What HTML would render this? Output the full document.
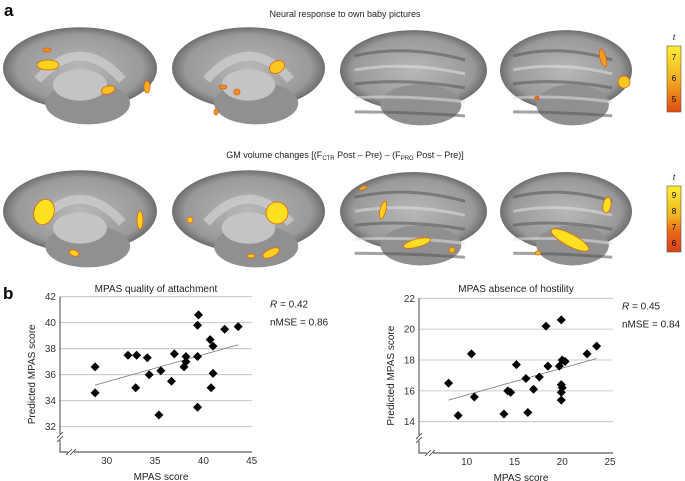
<!DOCTYPE html>
<html><head><meta charset="utf-8"><style>
body{margin:0;background:#fff;width:685px;height:481px;overflow:hidden;font-family:"Liberation Sans",sans-serif}
svg{display:block}
</style></head><body>
<svg id="fig" width="685" height="481" viewBox="0 0 685 481">
<defs>
<radialGradient id="brainG" cx="50%" cy="50%" r="55%">
<stop offset="0" stop-color="#b8b8b8"/><stop offset="0.75" stop-color="#999"/><stop offset="1" stop-color="#555"/>
</radialGradient>
<linearGradient id="cb1" x1="0" y1="0" x2="0" y2="1">
<stop offset="0" stop-color="#ffee30"/><stop offset="0.5" stop-color="#f2b020"/><stop offset="1" stop-color="#e04a10"/>
</linearGradient>
<linearGradient id="cb2" x1="0" y1="0" x2="0" y2="1">
<stop offset="0" stop-color="#ffee30"/><stop offset="0.45" stop-color="#f0b420"/><stop offset="0.7" stop-color="#e86818"/><stop offset="1" stop-color="#d8401a"/>
</linearGradient>
</defs>
<text x="4" y="16" font-size="17" font-weight="bold">a</text>
<text x="345" y="17" font-size="9" text-anchor="middle" fill="#222">Neural response to own baby pictures</text>
<text x="345" y="158" font-size="9" text-anchor="middle" fill="#222">GM volume changes [(F<tspan font-size="6" dy="2">CTR</tspan><tspan dy="-2"> Post – Pre) – (F</tspan><tspan font-size="6" dy="2">PRG</tspan><tspan dy="-2"> Post – Pre)]</tspan></text>
<g id="brains"></g>
<g>
<text x="674" y="40" font-size="8" font-style="italic" text-anchor="middle">t</text>
<rect x="667" y="46" width="14" height="66" fill="url(#cb1)" stroke="#555" stroke-width="0.6"/>
<text x="674" y="60" font-size="8" text-anchor="middle">7</text>
<text x="674" y="81" font-size="8" text-anchor="middle">6</text>
<text x="674" y="102" font-size="8" text-anchor="middle">5</text>
</g>
<g>
<text x="674" y="180" font-size="8" font-style="italic" text-anchor="middle">t</text>
<rect x="667" y="186" width="14" height="66" fill="url(#cb2)" stroke="#555" stroke-width="0.6"/>
<text x="674" y="198" font-size="8" text-anchor="middle">9</text>
<text x="674" y="214" font-size="8" text-anchor="middle">8</text>
<text x="674" y="230" font-size="8" text-anchor="middle">7</text>
<text x="674" y="246" font-size="8" text-anchor="middle">6</text>
</g>
<text x="3" y="299" font-size="17" font-weight="bold">b</text>
<g id="chart1"></g>
<g id="chart2"></g>
</svg>
<script>
// Chart 1 data
const x1Vals=[28.8,28.8,32.2,33.1,33,34.2,34.4,35.4,35.6,36.7,37,38,38.2,38.2,39.4,39.4,39.5,39.4,40.7,40.8,41,41,42.2,43.6];
const y1Vals=[36.6,34.6,37.5,37.5,35,37.3,36,32.9,36.3,35.5,37.6,36.6,37,37.4,37.4,39.8,40.6,33.5,38.7,35,38.2,36.1,39.5,39.7];
const y1Ticks=[32,34,36,38,40,42];
const x1Ticks=[30,35,40,45];
const fit1=[[28.8,35.2],[43.6,38.3]];
// Chart 2 data
const x2Vals=[8.1,9.1,10.5,10.8,13.9,14.3,14.6,15.2,16.2,16.4,17,17.6,18.3,18.5,19.7,19.9,20,19.9,20,19.9,19.9,20.3,22.6,23.6];
const y2Vals=[16.5,14.4,18.4,15.6,14.5,16,15.9,17.7,16.8,14.6,16.1,16.9,20.2,17.6,17.6,20.6,18,16.4,16.2,15.9,15.4,17.9,18.4,18.9];
const y2Ticks=[14,16,18,20,22];
const x2Ticks=[10,15,20,25];
const fit2=[[8.1,15.4],[23.6,18.1]];

const NS='http://www.w3.org/2000/svg';
function mk(tag,attrs,parent){const e=document.createElementNS(NS,tag);for(const k in attrs)e.setAttribute(k,attrs[k]);parent.appendChild(e);return e;}

function drawChart(g,o){
  const sx=v=>o.x0+(v-o.xa)*(o.x1-o.x0)/(o.xb-o.xa);
  const sy=v=>o.y0+(v-o.ya)*(o.y1-o.y0)/(o.yb-o.ya);
  o.yT.forEach(t=>{
    const l=mk('line',{x1:o.axX,x2:o.gridEnd,y1:sy(t),y2:sy(t),stroke:'#bbb','stroke-width':0.8},g);
    
    
    const tx=mk('text',{x:o.axX-4,y:sy(t)+3.5,'font-size':10,'text-anchor':'end',fill:'#333'},g);tx.textContent=t;
    
    
  });
  o.xT.forEach(t=>{
    const tx=mk('text',{x:sx(t),y:o.axY+12,'font-size':10,'text-anchor':'middle',fill:'#333'},g);tx.textContent=t;
    
    
  });
  mk('polyline',{points:`${o.axX},${o.gridTop} ${o.axX},${o.breakY-3}`,stroke:'#333',fill:'none','stroke-width':0.9},g);
  mk('polyline',{points:`${o.axX},${o.breakY+3} ${o.axX},${o.axY} ${o.axX+8},${o.axY}`,stroke:'#333',fill:'none','stroke-width':0.9},g);
  mk('line',{x1:o.axX+14,y1:o.axY,x2:o.gridEnd,y2:o.axY,stroke:'#333','stroke-width':0.9},g);
  mk('line',{x1:o.axX-3,y1:o.breakY+1,x2:o.axX+3,y2:o.breakY-5,stroke:'#333','stroke-width':0.8},g);
  mk('line',{x1:o.axX-3,y1:o.breakY+5,x2:o.axX+3,y2:o.breakY-1,stroke:'#333','stroke-width':0.8},g);
  mk('line',{x1:o.axX+6,y1:o.axY+3,x2:o.axX+12,y2:o.axY-3,stroke:'#333','stroke-width':0.8},g);
  mk('line',{x1:o.axX+10,y1:o.axY+3,x2:o.axX+16,y2:o.axY-3,stroke:'#333','stroke-width':0.8},g);
  const fl=mk('line',{x1:sx(o.fit[0][0]),y1:sy(o.fit[0][1]),x2:sx(o.fit[1][0]),y2:sy(o.fit[1][1]),stroke:'#777','stroke-width':0.8},g);
  
  
  o.xs.forEach((xv,i)=>{
    const cx=sx(xv),cy=sy(o.ys[i]);
    const p=mk('polygon',{points:`${cx},${cy-4.5} ${cx+4.5},${cy} ${cx},${cy+4.5} ${cx-4.5},${cy}`,fill:'#000'},g);
    
    
  });
  const t=mk('text',{x:(o.axX+o.gridEnd)/2,y:o.titleY,'font-size':10,'text-anchor':'middle',fill:'#222'},g);t.textContent=o.title;
  
  
  const xl=mk('text',{x:(o.axX+o.gridEnd)/2+5,y:o.axY+28,'font-size':10,'text-anchor':'middle',fill:'#222'},g);xl.textContent='MPAS score';
  
  
  const yl=mk('text',{x:0,y:0,'font-size':10,'text-anchor':'middle',fill:'#222',transform:`translate(${o.axX-25},${(o.gridTop+o.axY)/2}) rotate(-90)`},g);yl.textContent='Predicted MPAS score';
  
  
  const r=mk('text',{x:o.statX,y:o.gridTop+11,'font-size':10,fill:'#222'},g);r.innerHTML='<tspan font-style="italic">R</tspan> = '+o.R;
  
  
  const n=mk('text',{x:o.statX,y:o.gridTop+29,'font-size':10,fill:'#222'},g);n.textContent='nMSE = '+o.nmse;
  
  
}
const c1=document.getElementById('chart1');


drawChart(c1,{xs:x1Vals,ys:y1Vals,yT:y1Ticks,xT:x1Ticks,fit:fit1,xa:30,xb:45,x0:106.7,x1:251.7,ya:32,yb:42,y0:426.7,y1:296.7,axX:60,axY:452,gridEnd:252,gridTop:296.7,breakY:437,titleY:292,title:'MPAS quality of attachment',statX:270,R:'0.42',nmse:'0.86'});
const c2=document.getElementById('chart2');


drawChart(c2,{xs:x2Vals,ys:y2Vals,yT:y2Ticks,xT:x2Ticks,fit:fit2,xa:10,xb:25,x0:466.7,x1:610,ya:14,yb:22,y0:421.7,y1:298.3,axX:419,axY:453,gridEnd:613,gridTop:298.3,breakY:438,titleY:292,title:'MPAS absence of hostility',statX:622,R:'0.45',nmse:'0.84'});

// Brains (absolute blob positions: cx, cy, rx, ry, color, rotation)
const bg=document.getElementById('brains');
const brains=[
 {x0:3,x1:157,y0:22,y1:127,med:1,blobs:[[48,65,11,5,'#ffd21a',0],[47,50,4,2,'#f09020',0],[108,90,7,4,'#ffc020',-15],[147,87,3,6,'#f5b020',0]],n:'brain-row1-medial-left'},
 {x0:172,x1:325,y0:22,y1:127,med:1,blobs:[[277,67,8,6,'#ffc820',-30],[223,87,4,2,'#f09020',0],[237,92,3,3,'#f09020',0],[216,112,2,3,'#f0a020',0]],n:'brain-row1-medial-right'},
 {x0:340,x1:487,y0:25,y1:128,med:0,blobs:[],n:'brain-row1-lateral-left'},
 {x0:500,x1:632,y0:25,y1:128,med:0,blobs:[[603,58,3,9,'#f0a020',-15],[624,82,6,6,'#ffc820',0],[537,98,2,2,'#e07020',0]],n:'brain-row1-lateral-right'},
 {x0:3,x1:157,y0:165,y1:270,med:1,blobs:[[44,212,10,13,'#ffe020',20],[140,220,3,9,'#ffd020',0],[74,253,5,3,'#ffd020',20]],n:'brain-row2-medial-left'},
 {x0:172,x1:325,y0:165,y1:270,med:1,blobs:[[277,213,11,11,'#ffe020',0],[190,220,3,3,'#ffc820',0],[271,253,9,4,'#ffd020',-25],[251,256,4,2,'#ffc820',0]],n:'brain-row2-medial-right'},
 {x0:340,x1:487,y0:167,y1:268,med:0,blobs:[[383,210,3,9,'#ffd020',15],[417,243,14,4,'#ffe020',-15],[363,188,4,1.5,'#e0c020',-20],[452,250,3,3,'#e0c020',0]],n:'brain-row2-lateral-left'},
 {x0:500,x1:632,y0:167,y1:268,med:0,blobs:[[607,205,4,8,'#ffe020',10],[570,240,21,6,'#ffe020',28],[538,253,3,2,'#e0c020',0]],n:'brain-row2-lateral-right'}
];
brains.forEach(b=>{
  const g=mk('g',{},bg);
  
  
  const cx=(b.x0+b.x1)/2, cy=(b.y0+b.y1)/2, rx=(b.x1-b.x0)/2, ry=(b.y1-b.y0)/2;
  mk('ellipse',{cx:cx,cy:cy-ry*0.12,rx:rx,ry:ry*0.78,fill:'url(#brainG)'},g);
  mk('ellipse',{cx:cx+rx*0.1,cy:cy+ry*0.55,rx:rx*0.55,ry:ry*0.4,fill:'#909090'},g);
  if(b.med){
    mk('path',{d:`M${cx-rx*0.55} ${cy+ry*0.1} q${rx*0.55} ${-ry*0.9} ${rx*1.1} 0`,stroke:'#d0d0d0',fill:'none','stroke-width':9,opacity:0.7},g);
    mk('ellipse',{cx:cx,cy:cy+ry*0.2,rx:rx*0.35,ry:ry*0.3,fill:'#c4c4c4'},g);
  } else {
    for(let k=0;k<5;k++){
      mk('path',{d:`M${cx-rx*0.8} ${cy-ry*0.4+k*14} q${rx*0.7} ${-12+k*3} ${rx*1.5} ${4}`,stroke:k%2?'#e0e0e0':'#555',fill:'none','stroke-width':3,opacity:0.55},g);
    }
  }
  b.blobs.forEach(s=>{
    const e=mk('ellipse',{cx:s[0],cy:s[1],rx:s[2],ry:s[3],fill:s[4],stroke:'#e06010','stroke-width':0.8,transform:`rotate(${s[5]} ${s[0]} ${s[1]})`},g);
    
    
  });
});
</script>
</body></html>
